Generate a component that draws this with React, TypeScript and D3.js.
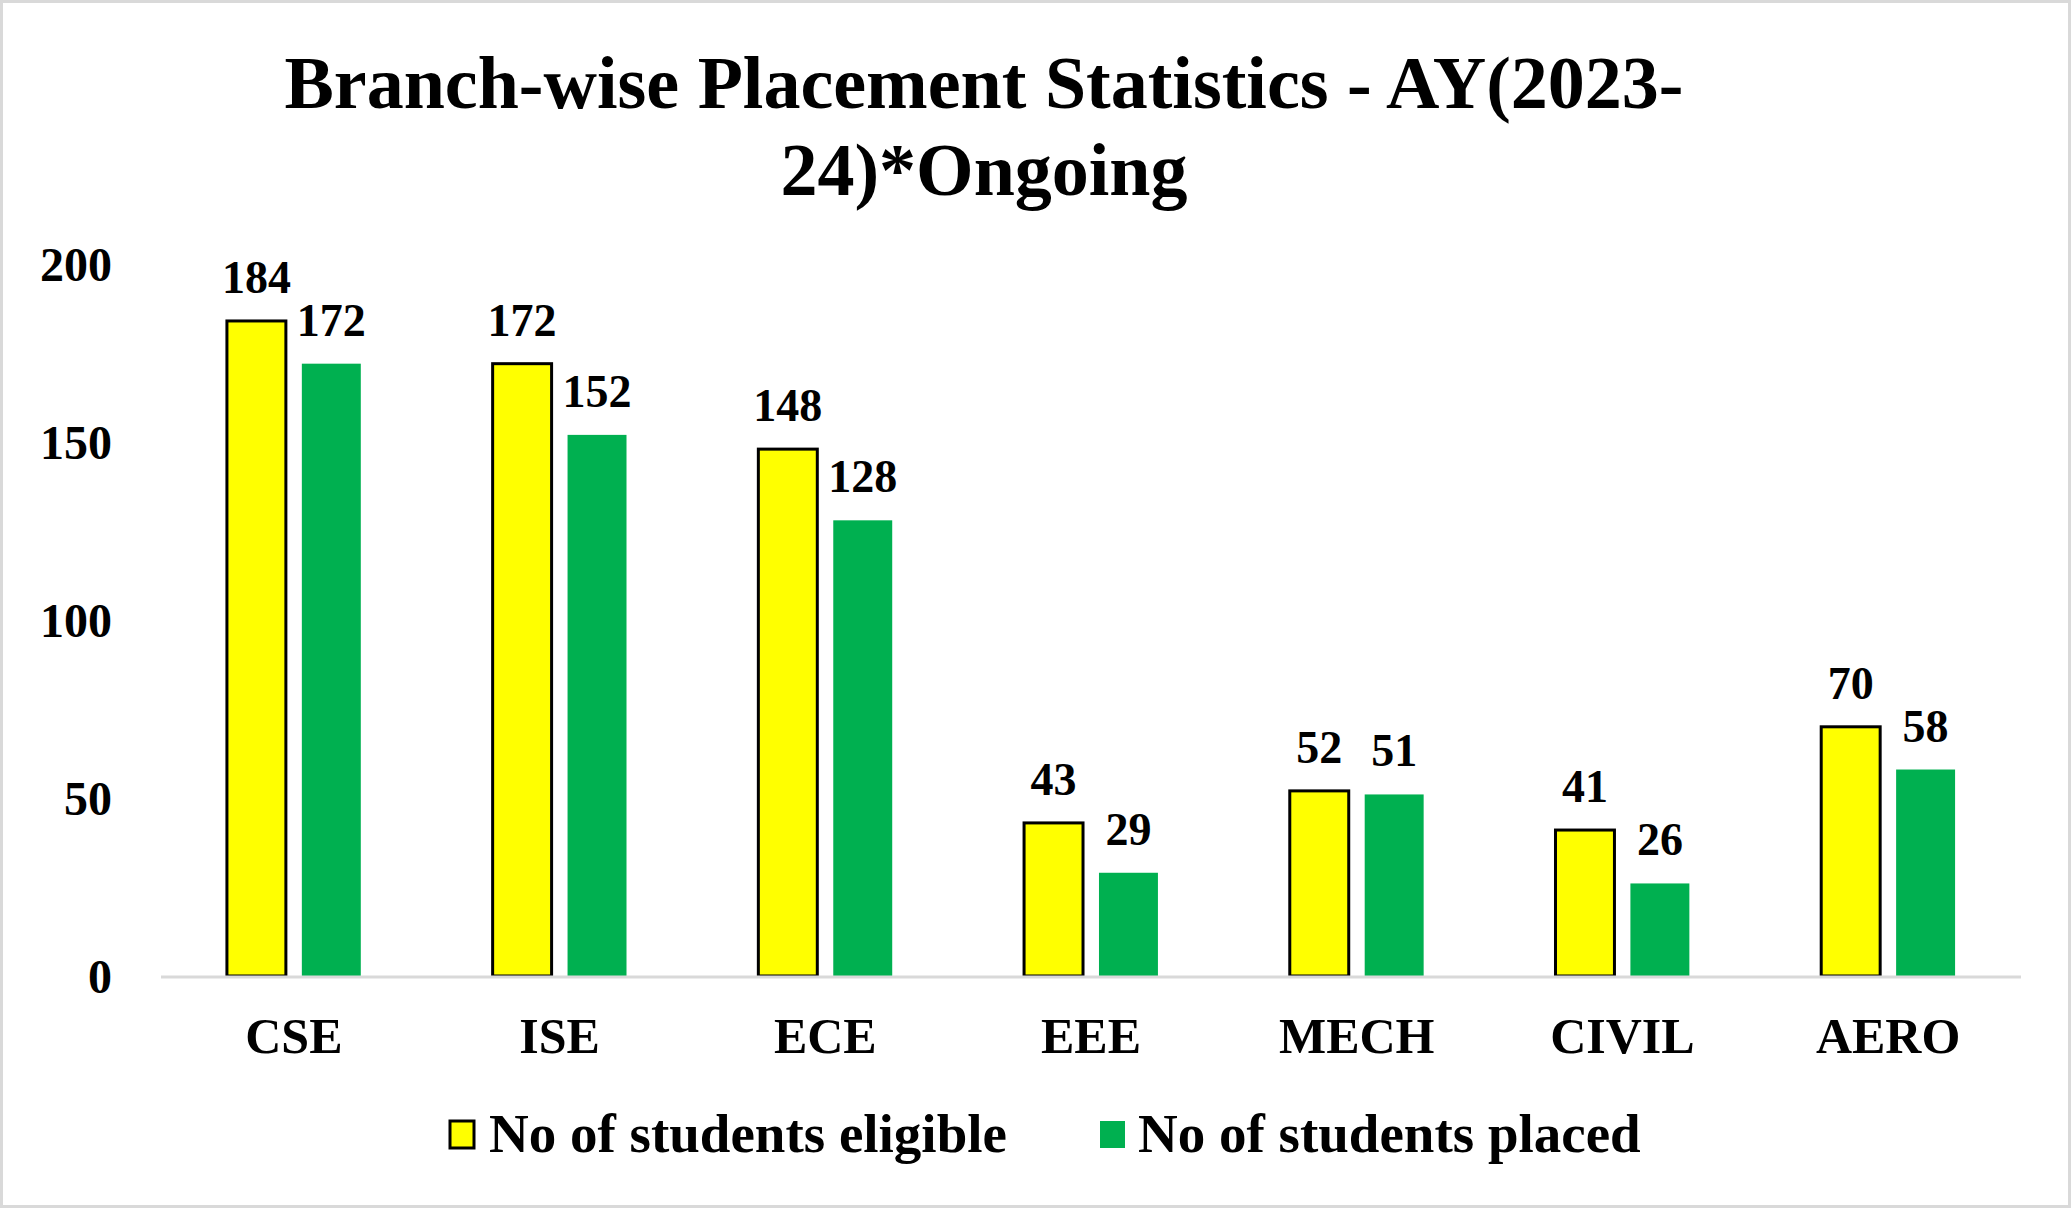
import React from "react";
import * as d3 from "d3";

const categories = ["CSE", "ISE", "ECE", "EEE", "MECH", "CIVIL", "AERO"];
const eligible = [184, 172, 148, 43, 52, 41, 70];
const placed = [172, 152, 128, 29, 51, 26, 58];
const yTicks = [0, 50, 100, 150, 200];
const seriesNames = ["No of students eligible", "No of students placed"];
const titleLines = ["Branch-wise Placement Statistics - AY(2023-", "24)*Ongoing"];

const W = 2071;
const H = 1208;
const FONT = "'Liberation Serif', 'Times New Roman', serif";

export default function App() {
  const x = d3.scaleBand<string>().domain(categories).range([161, 2021]).paddingInner(0).paddingOuter(0);
  const y = d3.scaleLinear().domain([0, 200]).range([976, 264]);
  const inner = d3.scaleBand<string>().domain(["e", "p"]).range([0, x.bandwidth()]).paddingInner(0.213).paddingOuter(0.88);

  return (
    <svg width={W} height={H} style={{ position: "absolute", left: 0, top: 0, background: "#fff" }} fontFamily={FONT}>
      <rect x={1.5} y={1.5} width={W - 3} height={H - 3} fill="#fff" stroke="#D9D9D9" strokeWidth={3} />
      {titleLines.map((t, i) => (
        <text key={t} x={984} y={108 + i * 87} textAnchor="middle" fontWeight="bold" fontSize={74}>
          {t}
        </text>
      ))}
      {yTicks.map((t) => (
        <text key={t} x={112} y={y(t)} dy="0.35em" textAnchor="end" fontWeight="bold" fontSize={48}>
          {t}
        </text>
      ))}
      {categories.map((c, i) => {
        const x0 = x(c)!;
        const ex = x0 + inner("e")!;
        const px = x0 + inner("p")!;
        const bw = inner.bandwidth();
        return (
          <g key={c}>
            <rect x={ex} y={y(eligible[i])} width={bw} height={y(0) - y(eligible[i])} fill="#FFFF00" stroke="#000" strokeWidth={3} />
            <rect x={px} y={y(placed[i])} width={bw} height={y(0) - y(placed[i])} fill="#00B050" />
            <text x={ex + bw / 2} y={y(eligible[i]) - 28} textAnchor="middle" fontWeight="bold" fontSize={46}>
              {eligible[i]}
            </text>
            <text x={px + bw / 2} y={y(placed[i]) - 28} textAnchor="middle" fontWeight="bold" fontSize={46}>
              {placed[i]}
            </text>
            <text x={x0 + x.bandwidth() / 2} y={1053} textAnchor="middle" fontWeight="bold" fontSize={50}>
              {c}
            </text>
          </g>
        );
      })}
      <line x1={161} x2={2021} y1={977} y2={977} stroke="#D9D9D9" strokeWidth={3} />
      <rect x={450} y={1121} width={24} height={27} fill="#FFFF00" stroke="#000" strokeWidth={3} />
      <text x={489} y={1152} fontWeight="bold" fontSize={55}>{seriesNames[0]}</text>
      <rect x={1100} y={1121} width={25} height={27} fill="#00B050" />
      <text x={1138} y={1152} fontWeight="bold" fontSize={55}>{seriesNames[1]}</text>
    </svg>
  );
}
